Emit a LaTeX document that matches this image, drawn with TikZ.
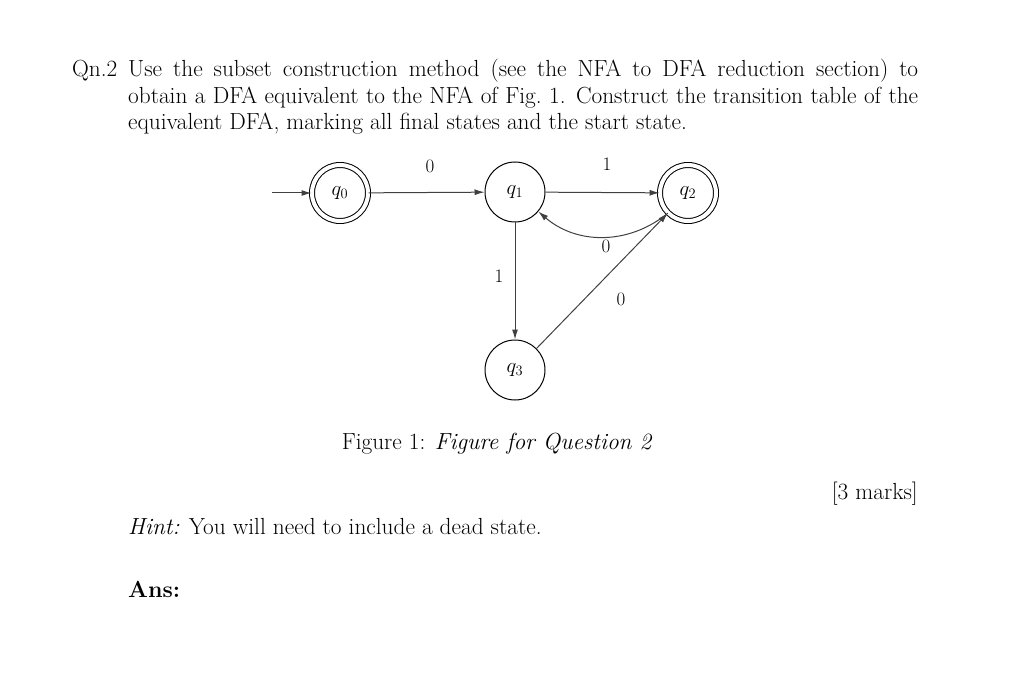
\documentclass[tikz,border=0pt]{standalone}
\usetikzlibrary{arrows.meta}
\begin{document}
\begin{tikzpicture}[x=1pt,y=-1pt,
  st/.style={circle,draw,line width=1pt,minimum size=60pt,inner sep=0pt,font=\fontsize{20}{22}\selectfont},
  acc/.style={st,double,double distance=4pt,minimum size=56pt},
  tr/.style={line width=1pt,-{Latex[length=10pt,width=6pt]},draw=black!75},
  lab/.style={font=\fontsize{19}{21}\selectfont},
  txt/.style={anchor=base west,inner sep=0pt,font=\fontsize{23.3}{26}\selectfont}]
\useasboundingbox (0,0) rectangle (1024,676);
\node[txt] (l0) at (72,77) {Qn.2};
\node[txt] (l1) at (128,77) {\hbox to 790pt{Use the subset construction method (see the NFA to DFA reduction section) to}};
\node[txt] (l2) at (128,103.5) {\hbox to 790pt{obtain a DFA equivalent to the NFA of Fig.\ 1. Construct the transition table of the}};
\node[txt] (l3) at (128,130) {equivalent DFA, marking all final states and the start state.};
\node[acc] (q0) at (340,193) {$q_0$};
\node[st] (q1) at (515,192) {$q_1$};
\node[acc] (q2) at (688,193) {$q_2$};
\node[st] (q3) at (515,370) {$q_3$};
\coordinate (s) at (272,193);
\draw[tr] (s) -- (q0);
\draw[tr] (q0) -- (q1);
\draw[tr] (q1) -- (q2);
\draw[tr] (q2.225) to[bend left=40] (q1.-40);
\draw[tr] (q1) -- (q3);
\draw[tr] (q3.45) -- (q2.225);
\node[lab] (a) at (430,166) {0};
\node[lab] (b) at (607,164) {1};
\node[lab] (c) at (606,246) {0};
\node[lab] (d) at (499,276) {1};
\node[lab] (e) at (621,299) {0};
\node[anchor=base,inner sep=0pt,font=\fontsize{23.3}{26}\selectfont] (cap) at (497,449) {Figure 1: \textit{Figure for Question 2}};
\node[anchor=base east,inner sep=0pt,font=\fontsize{23.3}{26}\selectfont] (m) at (918,499) {[3 marks]};
\node[txt] (h) at (128,534) {\textit{Hint:} You will need to include a dead state.};
\node[txt] (ans) at (128,597) {\textbf{Ans:}};
\end{tikzpicture}
\end{document}
